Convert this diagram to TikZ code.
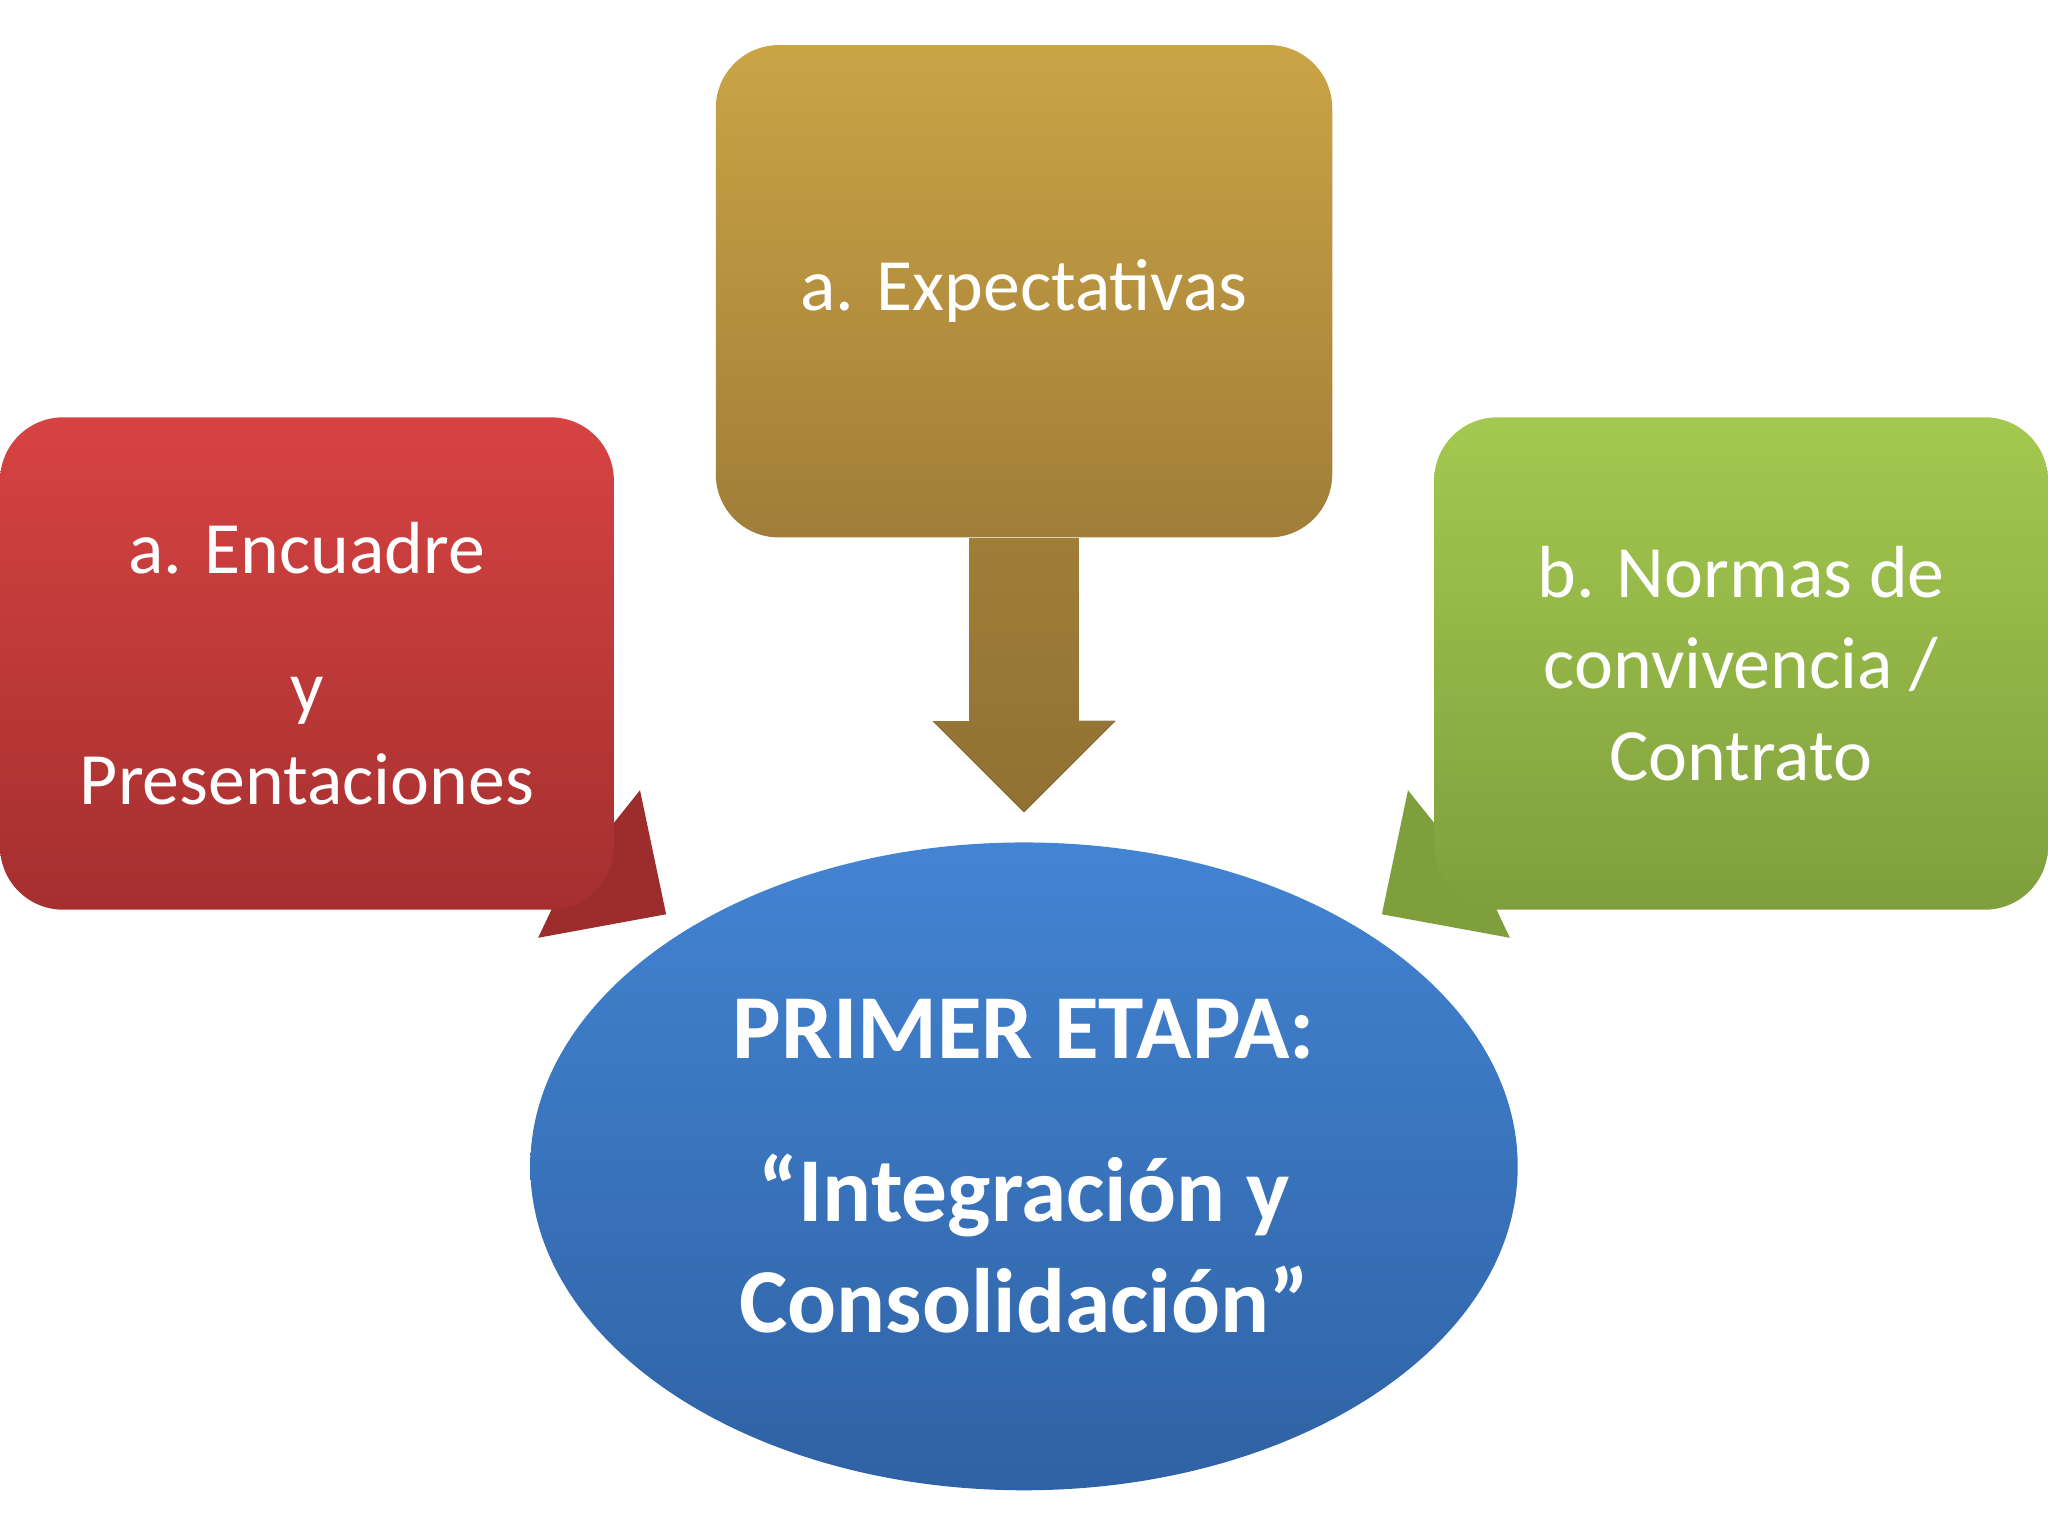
\documentclass[tikz,border=0pt]{standalone}
\usepackage{fontspec}
\setmainfont{Carlito}
\usetikzlibrary{positioning,shapes.geometric}
\definecolor{goldT}{HTML}{CBA446}
\definecolor{goldB}{HTML}{A07E38}
\definecolor{redT}{HTML}{D64342}
\definecolor{redB}{HTML}{A52F2F}
\definecolor{grnT}{HTML}{A4C84F}
\definecolor{grnB}{HTML}{7F9F3D}
\definecolor{bluT}{HTML}{4384D3}
\definecolor{bluB}{HTML}{2F62A4}
\tikzset{
  box/.style={rectangle, rounded corners=18pt, minimum width=472\pxu, minimum height=377\pxu,
    align=center, text=white, font=\fontsize{21}{26}\selectfont, inner sep=0pt},
}
\newlength{\pxu}
\setlength{\pxu}{0.01306cm}
\begin{document}
\begin{tikzpicture}[x=0.01306cm, y=-0.01306cm]
  \useasboundingbox (0,0) rectangle (1568,1176);
  % side arrow heads, behind the boxes
  \fill[redB!95!black] (430,680) -- (490,605) -- (510,700) -- (412,718) -- cycle;
  \fill[grnB] (1138,680) -- (1078,605) -- (1058,700) -- (1156,718) -- cycle;
  % boxes
  \node[box, top color=goldT, bottom color=goldB] (exp) at (784,223) {a. Expectativas};
  \node[box, top color=redT, bottom color=redB, minimum width=470\pxu] (enc) at (235,508)
    {a. Encuadre\\[0.48cm] y\\ Presentaciones};
  \node[box, top color=grnT, bottom color=grnB, minimum width=470\pxu] (nor) at (1333,508)
    {b. Normas de\\ convivencia /\\ Contrato};
  % ellipse
  \node[ellipse, minimum width=756\pxu, minimum height=496\pxu, top color=bluT, bottom color=bluB,
    text=white, align=center, inner sep=0pt, font=\bfseries\fontsize{26}{31.5}\selectfont]
    (eta) at (784,893) {PRIMER ETAPA:\\[0.52cm] “Integración y\\ Consolidación”};
  % down arrow
  \fill[top color=goldB, bottom color=goldB!90!black] (exp.south) ++(-42,0) -- ++(0,140) -- ++(-28,0)
    -- (784,622) -- (854,552) -- ++(-28,0) -- (826,412) -- cycle;
\end{tikzpicture}
\end{document}
